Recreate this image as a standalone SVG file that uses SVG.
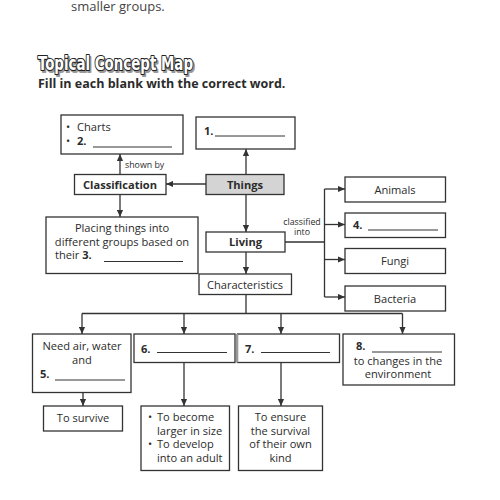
<svg xmlns="http://www.w3.org/2000/svg" width="500" height="500" viewBox="0 0 500 500">
<style>
text{font-family:"Open Sans","Liberation Sans",sans-serif;fill:#2b2b2b;font-size:11.1px}
.b{font-weight:bold}
.c{text-anchor:middle}
.s{font-size:8.8px}
rect{fill:#fff;stroke:#333;stroke-width:1.3}
.ln{fill:none;stroke:#333;stroke-width:1.3}
.bl{stroke:#333;stroke-width:1}
.tt{font-family:'DejaVu Sans Condensed','DejaVu Sans',sans-serif;font-weight:bold;font-size:19.5px;stroke-linejoin:round;paint-order:stroke}
</style>
<defs>
<marker id="ah" viewBox="0 0 8 8" refX="8" refY="4" markerWidth="7" markerHeight="7" markerUnits="userSpaceOnUse" orient="auto">
<path d="M0,0.5 L8,4 L0,7.5 z" fill="#333"/>
</marker>
</defs>
<rect width="500" height="500" style="fill:#fff;stroke:none"/>
<text x="71" y="11" style="font-size:13px;fill:#444">smaller groups.</text>
<text x="39.5" y="71.5" textLength="155" lengthAdjust="spacingAndGlyphs" class="tt" style="fill:#999;stroke:#999;stroke-width:2.2">Topical Concept Map</text>
<text x="38" y="70" textLength="155" lengthAdjust="spacingAndGlyphs" class="tt" style="fill:#fff;stroke:#222;stroke-width:2.2">Topical Concept Map</text>
<text x="38" y="88" class="b" style="font-size:12.5px">Fill in each blank with the correct word.</text>

<g id="connectors">
<path class="ln" d="M120,174 V154" marker-end="url(#ah)"/>
<path class="ln" d="M246,174 V149" marker-end="url(#ah)"/>
<path class="ln" d="M206,184 H166" marker-end="url(#ah)"/>
<path class="ln" d="M120,194 V217" marker-end="url(#ah)"/>
<path class="ln" d="M246,194 V232" marker-end="url(#ah)"/>
<path class="ln" d="M246,252 V274" marker-end="url(#ah)"/>
<path class="ln" d="M285,242 H324.5 M324.5,189 V297"/>
<path class="ln" d="M324.5,189 H345" marker-end="url(#ah)"/>
<path class="ln" d="M324.5,224.5 H345" marker-end="url(#ah)"/>
<path class="ln" d="M324.5,259.5 H345" marker-end="url(#ah)"/>
<path class="ln" d="M324.5,297 H345" marker-end="url(#ah)"/>
<path class="ln" d="M246,294 V313.5 M82,313.5 H402.5"/>
<path class="ln" d="M82,313.5 V334" marker-end="url(#ah)"/>
<path class="ln" d="M184,313.5 V334" marker-end="url(#ah)"/>
<path class="ln" d="M281,313.5 V334" marker-end="url(#ah)"/>
<path class="ln" d="M402.5,313.5 V334" marker-end="url(#ah)"/>
<path class="ln" d="M83,392 V406" marker-end="url(#ah)"/>
<path class="ln" d="M184,363 V406" marker-end="url(#ah)"/>
<path class="ln" d="M281,363 V406" marker-end="url(#ah)"/>
<text x="125" y="168" class="s">shown by</text>
<text x="302" y="224.5" class="s c">classified</text>
<text x="302" y="235" class="s c">into</text>
</g>

<g id="charts">
<rect x="61" y="115" width="122" height="39"/>
<text x="66" y="131">•</text><text x="77" y="131">Charts</text>
<text x="66" y="145">•</text><text x="77" y="145" class="b">2.</text>
<line class="bl" x1="93" y1="147" x2="172" y2="147"/>
</g>
<g id="blank1">
<rect x="196" y="117" width="99" height="32"/>
<text x="204" y="135" class="b">1.</text>
<line class="bl" x1="215" y1="136" x2="285" y2="136"/>
</g>
<g id="classification">
<rect x="74.5" y="174.5" width="91.5" height="20"/>
<text x="120" y="188.5" class="b c">Classification</text>
</g>
<g id="things">
<rect x="206" y="174.5" width="78" height="20" style="fill:#d4d4d4"/>
<text x="245" y="188.5" class="b c">Things</text>
</g>
<g id="placing">
<rect x="46" y="217" width="152" height="56.5"/>
<text x="122" y="232" class="c">Placing things into</text>
<text x="122" y="245.5" class="c">different groups based on</text>
<text x="55" y="259">their <tspan class="b">3.</tspan></text>
<line class="bl" x1="104" y1="261.5" x2="183" y2="261.5"/>
</g>
<g id="living">
<rect x="206" y="232" width="79" height="20"/>
<text x="245.5" y="246" class="b c">Living</text>
</g>
<g id="characteristics">
<rect x="199" y="274" width="92.5" height="20.5"/>
<text x="245" y="288.5" class="c">Characteristics</text>
</g>
<g id="animals">
<rect x="345" y="177" width="100.5" height="25"/>
<text x="395" y="193.5" class="c">Animals</text>
</g>
<g id="blank4">
<rect x="345" y="213" width="100.5" height="24.5"/>
<text x="353" y="229" class="b">4.</text>
<line class="bl" x1="368" y1="230" x2="438" y2="230"/>
</g>
<g id="fungi">
<rect x="345" y="248.5" width="100.5" height="25"/>
<text x="395" y="265" class="c">Fungi</text>
</g>
<g id="bacteria">
<rect x="345" y="286" width="100.5" height="25"/>
<text x="395" y="302.5" class="c">Bacteria</text>
</g>
<g id="need">
<rect x="32.5" y="334" width="98.5" height="58.5"/>
<text x="82" y="350" class="c">Need air, water</text>
<text x="82" y="364" class="c">and</text>
<text x="40" y="378" class="b">5.</text>
<line class="bl" x1="55" y1="380" x2="125" y2="380"/>
</g>
<g id="blank6">
<rect x="134" y="334" width="101" height="28.5"/>
<text x="141" y="353" class="b">6.</text>
<line class="bl" x1="157" y1="352.5" x2="227" y2="352.5"/>
</g>
<g id="blank7">
<rect x="237.5" y="334" width="102" height="28.5"/>
<line x1="237" y1="334" x2="237" y2="362.5" style="stroke:#999;stroke-width:2"/>
<text x="245" y="353" class="b">7.</text>
<line class="bl" x1="261" y1="352.5" x2="330" y2="352.5"/>
</g>
<g id="blank8">
<rect x="343" y="334" width="111.5" height="51"/>
<text x="356" y="350" class="b">8.</text>
<line class="bl" x1="372" y1="352" x2="442" y2="352"/>
<text x="398" y="365" class="c">to changes in the</text>
<text x="398" y="378" class="c">environment</text>
</g>
<g id="survive">
<rect x="43.5" y="406" width="79" height="25"/>
<text x="83" y="422" class="c">To survive</text>
</g>
<g id="become">
<rect x="141" y="406" width="88.5" height="64.5"/>
<text x="148" y="421">•</text><text x="157" y="421">To become</text>
<text x="157" y="434.5">larger in size</text>
<text x="148" y="448">•</text><text x="157" y="448">To develop</text>
<text x="157" y="462">into an adult</text>
</g>
<g id="ensure">
<rect x="238.5" y="406" width="84" height="64.5"/>
<text x="280.5" y="421" class="c">To ensure</text>
<text x="280.5" y="434.5" class="c">the survival</text>
<text x="280.5" y="448" class="c">of their own</text>
<text x="280.5" y="462" class="c">kind</text>
</g>
</svg>
